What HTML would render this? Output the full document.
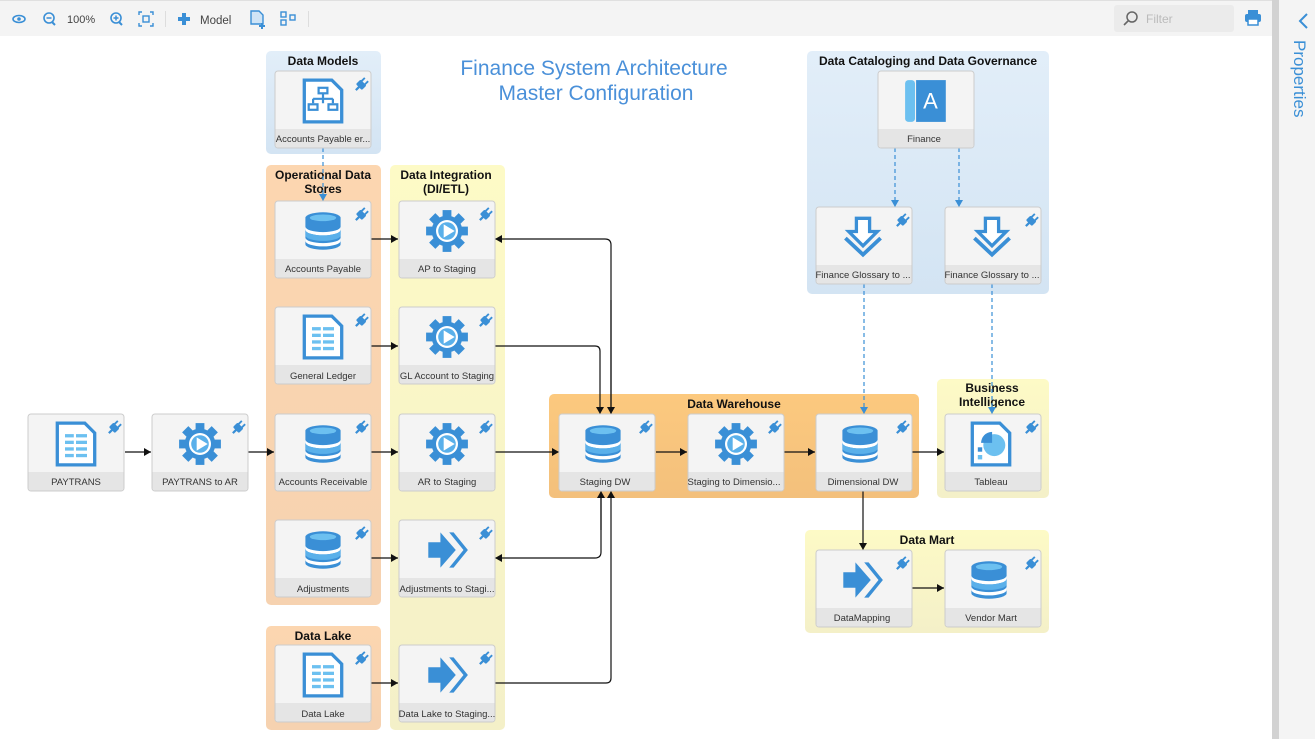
<!DOCTYPE html>
<html><head><meta charset="utf-8"><style>
html,body{margin:0;padding:0;width:1315px;height:739px;overflow:hidden;background:#fff;font-family:"Liberation Sans",sans-serif;}
svg{display:block}
</style></head><body>
<svg width="1315" height="739" viewBox="0 0 1315 739" xmlns="http://www.w3.org/2000/svg" font-family="Liberation Sans, sans-serif">
<defs>
<linearGradient id="gb" x1="0" y1="0" x2="0" y2="1"><stop offset="0" stop-color="#e2eef9"/><stop offset="1" stop-color="#d3e4f3"/></linearGradient>
<linearGradient id="go" x1="0" y1="0" x2="0" y2="1"><stop offset="0" stop-color="#fcd6b0"/><stop offset="1" stop-color="#f6d2b0"/></linearGradient>
<linearGradient id="gy" x1="0" y1="0" x2="0" y2="1"><stop offset="0" stop-color="#fdfac6"/><stop offset="1" stop-color="#f4f0c8"/></linearGradient>
<linearGradient id="gw" x1="0" y1="0" x2="0" y2="1"><stop offset="0" stop-color="#fcc97e"/><stop offset="1" stop-color="#f3c07c"/></linearGradient>
<marker id="ar" markerWidth="8" markerHeight="8" refX="7" refY="4" orient="auto" markerUnits="userSpaceOnUse"><path d="M0,0 L7,4 L0,8 z" fill="#111"/></marker>
<marker id="ab" markerWidth="8" markerHeight="8" refX="7" refY="4" orient="auto" markerUnits="userSpaceOnUse"><path d="M0,0 L7,4 L0,8 z" fill="#3a8fd6"/></marker>
<symbol id="db" viewBox="-20 -20 40 40" overflow="visible">
<path d="M-16,-12 a16,5 0 0 1 32,0 v24 a16,5 0 0 1 -32,0 z" fill="#3a8fd6"/>
<ellipse cx="0" cy="-12" rx="12" ry="3" fill="#6cc0f0"/>
<path d="M-16,-4 a16,5 0 0 0 32,0 v3 a16,5 0 0 1 -32,0 z" fill="#fff"/>
<path d="M-16,-1 a16,5 0 0 0 32,0 v5 a16,5 0 0 1 -32,0 z" fill="#5ab0ea"/>
<path d="M-16,6 a16,5 0 0 0 32,0 v3 a16,5 0 0 1 -32,0 z" fill="#fff"/>
</symbol>
<symbol id="gear" viewBox="-20 -20 40 40" overflow="visible">
<g fill="#3a8fd6">
<circle r="14"/>
<rect x="-4" y="-19" width="8" height="38"/>
<rect x="-4" y="-19" width="8" height="38" transform="rotate(45)"/>
<rect x="-4" y="-19" width="8" height="38" transform="rotate(90)"/>
<rect x="-4" y="-19" width="8" height="38" transform="rotate(135)"/>
</g>
<circle r="10" fill="#fff"/>
<circle r="8" fill="#5ab0ea"/>
<path d="M-3,-6 L7,0 L-3,6 z" fill="#fff"/>
</symbol>
<symbol id="doc" viewBox="-20 -20 40 40" overflow="visible">
<path d="M-17,-19 H8 L17,-10 V19 H-17 z" fill="#fff" stroke="#3a8fd6" stroke-width="3"/>
<g fill="#6cc0f0"><rect x="-10" y="-9" width="8" height="3"/><rect x="0" y="-9" width="10" height="3"/><rect x="-10" y="-3" width="8" height="3"/><rect x="0" y="-3" width="10" height="3"/><rect x="-10" y="3" width="8" height="3"/><rect x="0" y="3" width="10" height="3"/><rect x="-10" y="9" width="8" height="3"/><rect x="0" y="9" width="10" height="3"/></g>
</symbol>
<symbol id="tree" viewBox="-20 -20 40 40" overflow="visible">
<path d="M-17,-19 H8 L17,-10 V19 H-17 z" fill="#fff" stroke="#3a8fd6" stroke-width="3"/>
<g fill="none" stroke="#3a8fd6" stroke-width="2"><rect x="-4" y="-12" width="8" height="5"/><path d="M0,-7 V-2 M-9,-2 H9 M-9,-2 V2 M9,-2 V2 M0,-2 V2"/><rect x="-13" y="3" width="8" height="5"/><rect x="5" y="3" width="8" height="5"/></g>
</symbol>
<symbol id="chev" viewBox="-20 -20 40 40" overflow="visible">
<path d="M-17,-7 H-6 V-16 L8,0 L-6,16 V7 H-17 z" fill="#3a8fd6"/>
<path d="M2,-16 L6,-16 L19,0 L6,16 L2,16 L15,0 z" fill="#3a8fd6"/>
</symbol>
<symbol id="chart" viewBox="-20 -20 40 40" overflow="visible">
<path d="M-17,-19 H8 L17,-10 V19 H-17 z" fill="#fff" stroke="#3a8fd6" stroke-width="3"/>
<circle cx="3" cy="1" r="10" fill="#6cc0f0"/><path d="M1,-1 V-11 A10,10 0 0 0 -9,-1 z" fill="#3a8fd6"/>
<rect x="-12" y="3" width="4" height="4" fill="#3a8fd6"/><rect x="-12" y="10" width="4" height="4" fill="#6cc0f0"/>
</symbol>
<symbol id="book" viewBox="-20 -20 40 40" overflow="visible">
<rect x="-19" y="-19" width="9" height="38" rx="3" fill="#6cc0f0"/>
<rect x="-9" y="-19" width="27" height="38" fill="#3a8fd6"/>
<text x="4" y="7" font-size="20" fill="#fff" text-anchor="middle" font-family="Liberation Sans, sans-serif">A</text>
</symbol>
<symbol id="down" viewBox="-20 -20 40 40" overflow="visible">
<path d="M-6,-17 H6 V-5 H13 L0,8 L-13,-5 H-6 z" fill="#fff" stroke="#3a8fd6" stroke-width="3"/>
<path d="M-16,1 L0,16 L16,1" fill="none" stroke="#3a8fd6" stroke-width="3.5"/>
</symbol>
<symbol id="plug" viewBox="-8 -8 16 16" overflow="visible">
<g transform="rotate(45)" fill="#3a8fd6"><rect x="-4.5" y="-3" width="9" height="7" rx="1.5"/><rect x="-3.5" y="-7.5" width="2" height="5"/><rect x="1.5" y="-7.5" width="2" height="5"/><rect x="-1.2" y="3.5" width="2.4" height="5"/></g>
</symbol>
</defs>

<!-- toolbar -->
<rect x="0" y="0" width="1272" height="36" fill="#f4f4f4"/>
<rect x="0" y="0" width="1272" height="1" fill="#e0e0e0"/>
<g fill="#3a8fd6" stroke="#3a8fd6">
<ellipse cx="19" cy="19" rx="6" ry="3.5" fill="none" stroke-width="1.6"/><circle cx="19" cy="19" r="1.8" stroke="none"/>
<circle cx="49" cy="18" r="5" fill="none" stroke-width="1.6"/><line x1="52" y1="22" x2="55" y2="25" stroke-width="2"/><line x1="46.5" y1="18" x2="51.5" y2="18" stroke-width="1.5"/>
<circle cx="116" cy="18" r="5" fill="none" stroke-width="1.6"/><line x1="119" y1="22" x2="122" y2="25" stroke-width="2"/><line x1="113.5" y1="18" x2="118.5" y2="18" stroke-width="1.5"/><line x1="116" y1="15.5" x2="116" y2="20.5" stroke-width="1.5"/>
<path d="M139,15 V12 H142 M150,12 H153 V15 M153,23 V26 H150 M142,26 H139 V23" fill="none" stroke-width="1.4"/><rect x="143" y="16" width="6" height="6" fill="none" stroke-width="1.4"/>
</g>
<text x="67" y="23" font-size="11" fill="#444">100%</text>
<rect x="165" y="11" width="1" height="16" fill="#ddd"/>
<path d="M182,13 h4 v4 h4 v4 h-4 v4 h-4 v-4 h-4 v-4 h4z" fill="#3a8fd6"/>
<text x="200" y="24" font-size="11.5" fill="#444">Model</text>
<g fill="none" stroke="#3a8fd6" stroke-width="1.4"><path d="M251,11 h8 l4,4 v9 h-12 z" fill="#cfe4f6"/><path d="M262,23 v6 M259,26 h6" stroke-width="2"/>
<rect x="281" y="12" width="5" height="5"/><rect x="281" y="20" width="5" height="5"/><rect x="290" y="15" width="5" height="5"/></g>
<rect x="308" y="11" width="1" height="16" fill="#ddd"/>
<rect x="1114" y="5" width="120" height="27" rx="3" fill="#ebebeb"/>
<circle cx="1132" cy="17" r="5" fill="none" stroke="#666" stroke-width="1.5"/><line x1="1128" y1="21" x2="1124" y2="25" stroke="#666" stroke-width="1.6"/>
<text x="1146" y="23" font-size="12" fill="#bbb">Filter</text>
<g fill="#3a8fd6"><rect x="1248" y="10" width="10" height="4"/><rect x="1245" y="14" width="16" height="8" rx="2"/><rect x="1248" y="19" width="10" height="6" fill="#fff" stroke="#3a8fd6" stroke-width="1.5"/></g>
<!-- right panel -->
<rect x="1272" y="0" width="7" height="739" fill="#d2d2d2"/>
<rect x="1279" y="0" width="36" height="739" fill="#f4f4f4"/>
<path d="M1307,14 L1300,21 L1307,28" fill="none" stroke="#3a8fd6" stroke-width="2"/>
<text transform="translate(1294,40) rotate(90)" font-size="17" fill="#3a8fd6">Properties</text>

<!-- title -->
<text x="594" y="75" font-size="21" fill="#4a90d9" text-anchor="middle">Finance System Architecture</text>
<text x="596" y="100" font-size="21" fill="#4a90d9" text-anchor="middle">Master Configuration</text>

<!-- groups -->
<rect x="266" y="51" width="115" height="103" rx="5" fill="url(#gb)"/>
<rect x="266" y="165" width="115" height="440" rx="5" fill="url(#go)"/>
<rect x="266" y="626" width="115" height="104" rx="5" fill="url(#go)"/>
<rect x="390" y="165" width="115" height="565" rx="5" fill="url(#gy)"/>
<rect x="549" y="394" width="370" height="104" rx="5" fill="url(#gw)"/>
<rect x="937" y="379" width="112" height="119" rx="5" fill="url(#gy)"/>
<rect x="805" y="530" width="244" height="103" rx="5" fill="url(#gy)"/>
<rect x="807" y="51" width="242" height="243" rx="5" fill="url(#gb)"/>
<g font-size="12" font-weight="bold" fill="#111" text-anchor="middle">
<text x="323" y="65">Data Models</text>
<text x="323" y="179">Operational Data</text><text x="323" y="193">Stores</text>
<text x="323" y="640">Data Lake</text>
<text x="446" y="179">Data Integration</text><text x="446" y="193">(DI/ETL)</text>
<text x="734" y="408">Data Warehouse</text>
<text x="992" y="392">Business</text><text x="992" y="406">Intelligence</text>
<text x="927" y="544">Data Mart</text>
<text x="928" y="65">Data Cataloging and Data Governance</text>
</g>

<!-- connectors -->
<g fill="none" stroke="#111" stroke-width="1.2">
<line x1="125" y1="452" x2="151" y2="452" marker-end="url(#ar)"/>
<line x1="248" y1="452" x2="274" y2="452" marker-end="url(#ar)"/>
<line x1="371" y1="239" x2="398" y2="239" marker-end="url(#ar)"/>
<line x1="371" y1="346" x2="398" y2="346" marker-end="url(#ar)"/>
<line x1="371" y1="452" x2="398" y2="452" marker-end="url(#ar)"/>
<line x1="371" y1="558" x2="398" y2="558" marker-end="url(#ar)"/>
<line x1="371" y1="683" x2="398" y2="683" marker-end="url(#ar)"/>
<path d="M611,414 V245 q0,-6 -6,-6 H495" marker-end="url(#ar)"/>
<line x1="611" y1="300" x2="611" y2="414" marker-end="url(#ar)"/>
<path d="M495,346 H595 q5,0 5,5 V414" marker-end="url(#ar)"/>
<line x1="495" y1="452" x2="559" y2="452" marker-end="url(#ar)"/>
<path d="M601,498 V552 q0,6 -6,6 H495" marker-end="url(#ar)"/>
<line x1="601" y1="530" x2="601" y2="491" marker-end="url(#ar)"/>
<path d="M495,683 H606 q5,0 5,-5 V491" marker-end="url(#ar)"/>
<line x1="656" y1="452" x2="687" y2="452" marker-end="url(#ar)"/>
<line x1="784" y1="452" x2="815" y2="452" marker-end="url(#ar)"/>
<line x1="912" y1="452" x2="944" y2="452" marker-end="url(#ar)"/>
<line x1="863" y1="491" x2="863" y2="550" marker-end="url(#ar)"/>
<line x1="912" y1="588" x2="944" y2="588" marker-end="url(#ar)"/>
</g>
<g fill="none" stroke="#3a8fd6" stroke-width="1.2" stroke-dasharray="4,3">
<line x1="323" y1="148" x2="323" y2="201" marker-end="url(#ab)"/>
<line x1="895" y1="148" x2="895" y2="207" marker-end="url(#ab)"/>
<line x1="959" y1="148" x2="959" y2="207" marker-end="url(#ab)"/>
<line x1="864" y1="284" x2="864" y2="414" marker-end="url(#ab)"/>
<line x1="992" y1="284" x2="992" y2="414" marker-end="url(#ab)"/>
</g>

<!-- nodes -->
<g id="nodes" font-size="9.5" fill="#333" text-anchor="middle">
<g transform="translate(275,71)"><rect x="0" y="0" width="96" height="77" rx="3" fill="#f4f4f4" stroke="#ccc"/><path d="M0.5,58 H95.5 V74 q0,2.5 -2.5,2.5 H3 q-2.5,0 -2.5,-2.5z" fill="#e5e5e5"/><use href="#tree" x="26" y="8" width="44" height="44"/><use href="#plug" x="79" y="6" width="15" height="15"/><text x="48" y="71">Accounts Payable er...</text></g>
<g transform="translate(275,201)"><rect x="0" y="0" width="96" height="77" rx="3" fill="#f4f4f4" stroke="#ccc"/><path d="M0.5,58 H95.5 V74 q0,2.5 -2.5,2.5 H3 q-2.5,0 -2.5,-2.5z" fill="#e5e5e5"/><use href="#db" x="26" y="8" width="44" height="44"/><use href="#plug" x="79" y="6" width="15" height="15"/><text x="48" y="71">Accounts Payable</text></g>
<g transform="translate(275,307)"><rect x="0" y="0" width="96" height="77" rx="3" fill="#f4f4f4" stroke="#ccc"/><path d="M0.5,58 H95.5 V74 q0,2.5 -2.5,2.5 H3 q-2.5,0 -2.5,-2.5z" fill="#e5e5e5"/><use href="#doc" x="26" y="8" width="44" height="44"/><use href="#plug" x="79" y="6" width="15" height="15"/><text x="48" y="72">General Ledger</text></g>
<g transform="translate(275,414)"><rect x="0" y="0" width="96" height="77" rx="3" fill="#f4f4f4" stroke="#ccc"/><path d="M0.5,58 H95.5 V74 q0,2.5 -2.5,2.5 H3 q-2.5,0 -2.5,-2.5z" fill="#e5e5e5"/><use href="#db" x="26" y="8" width="44" height="44"/><use href="#plug" x="79" y="6" width="15" height="15"/><text x="48" y="71">Accounts Receivable</text></g>
<g transform="translate(275,520)"><rect x="0" y="0" width="96" height="77" rx="3" fill="#f4f4f4" stroke="#ccc"/><path d="M0.5,58 H95.5 V74 q0,2.5 -2.5,2.5 H3 q-2.5,0 -2.5,-2.5z" fill="#e5e5e5"/><use href="#db" x="26" y="8" width="44" height="44"/><use href="#plug" x="79" y="6" width="15" height="15"/><text x="48" y="72">Adjustments</text></g>
<g transform="translate(275,645)"><rect x="0" y="0" width="96" height="77" rx="3" fill="#f4f4f4" stroke="#ccc"/><path d="M0.5,58 H95.5 V74 q0,2.5 -2.5,2.5 H3 q-2.5,0 -2.5,-2.5z" fill="#e5e5e5"/><use href="#doc" x="26" y="8" width="44" height="44"/><use href="#plug" x="79" y="6" width="15" height="15"/><text x="48" y="72">Data Lake</text></g>

<g transform="translate(399,201)"><rect x="0" y="0" width="96" height="77" rx="3" fill="#f4f4f4" stroke="#ccc"/><path d="M0.5,58 H95.5 V74 q0,2.5 -2.5,2.5 H3 q-2.5,0 -2.5,-2.5z" fill="#e5e5e5"/><use href="#gear" x="26" y="8" width="44" height="44"/><use href="#plug" x="79" y="6" width="15" height="15"/><text x="48" y="71">AP to Staging</text></g>
<g transform="translate(399,307)"><rect x="0" y="0" width="96" height="77" rx="3" fill="#f4f4f4" stroke="#ccc"/><path d="M0.5,58 H95.5 V74 q0,2.5 -2.5,2.5 H3 q-2.5,0 -2.5,-2.5z" fill="#e5e5e5"/><use href="#gear" x="26" y="8" width="44" height="44"/><use href="#plug" x="79" y="6" width="15" height="15"/><text x="48" y="72">GL Account to Staging</text></g>
<g transform="translate(399,414)"><rect x="0" y="0" width="96" height="77" rx="3" fill="#f4f4f4" stroke="#ccc"/><path d="M0.5,58 H95.5 V74 q0,2.5 -2.5,2.5 H3 q-2.5,0 -2.5,-2.5z" fill="#e5e5e5"/><use href="#gear" x="26" y="8" width="44" height="44"/><use href="#plug" x="79" y="6" width="15" height="15"/><text x="48" y="71">AR to Staging</text></g>
<g transform="translate(399,520)"><rect x="0" y="0" width="96" height="77" rx="3" fill="#f4f4f4" stroke="#ccc"/><path d="M0.5,58 H95.5 V74 q0,2.5 -2.5,2.5 H3 q-2.5,0 -2.5,-2.5z" fill="#e5e5e5"/><use href="#chev" x="26" y="8" width="44" height="44"/><use href="#plug" x="79" y="6" width="15" height="15"/><text x="48" y="72">Adjustments to Stagi...</text></g>
<g transform="translate(399,645)"><rect x="0" y="0" width="96" height="77" rx="3" fill="#f4f4f4" stroke="#ccc"/><path d="M0.5,58 H95.5 V74 q0,2.5 -2.5,2.5 H3 q-2.5,0 -2.5,-2.5z" fill="#e5e5e5"/><use href="#chev" x="26" y="8" width="44" height="44"/><use href="#plug" x="79" y="6" width="15" height="15"/><text x="48" y="72">Data Lake to Staging...</text></g>

<g transform="translate(28,414)"><rect x="0" y="0" width="96" height="77" rx="3" fill="#f4f4f4" stroke="#ccc"/><path d="M0.5,58 H95.5 V74 q0,2.5 -2.5,2.5 H3 q-2.5,0 -2.5,-2.5z" fill="#e5e5e5"/><use href="#doc" x="26" y="8" width="44" height="44"/><use href="#plug" x="79" y="6" width="15" height="15"/><text x="48" y="71">PAYTRANS</text></g>
<g transform="translate(152,414)"><rect x="0" y="0" width="96" height="77" rx="3" fill="#f4f4f4" stroke="#ccc"/><path d="M0.5,58 H95.5 V74 q0,2.5 -2.5,2.5 H3 q-2.5,0 -2.5,-2.5z" fill="#e5e5e5"/><use href="#gear" x="26" y="8" width="44" height="44"/><use href="#plug" x="79" y="6" width="15" height="15"/><text x="48" y="71">PAYTRANS to AR</text></g>

<g transform="translate(559,414)"><rect x="0" y="0" width="96" height="77" rx="3" fill="#f4f4f4" stroke="#ccc"/><path d="M0.5,58 H95.5 V74 q0,2.5 -2.5,2.5 H3 q-2.5,0 -2.5,-2.5z" fill="#e5e5e5"/><use href="#db" x="22" y="8" width="44" height="44"/><use href="#plug" x="79" y="6" width="15" height="15"/><text x="46" y="71">Staging DW</text></g>
<g transform="translate(688,414)"><rect x="0" y="0" width="96" height="77" rx="3" fill="#f4f4f4" stroke="#ccc"/><path d="M0.5,58 H95.5 V74 q0,2.5 -2.5,2.5 H3 q-2.5,0 -2.5,-2.5z" fill="#e5e5e5"/><use href="#gear" x="26" y="8" width="44" height="44"/><use href="#plug" x="79" y="6" width="15" height="15"/><text x="46" y="71">Staging to Dimensio...</text></g>
<g transform="translate(816,414)"><rect x="0" y="0" width="96" height="77" rx="3" fill="#f4f4f4" stroke="#ccc"/><path d="M0.5,58 H95.5 V74 q0,2.5 -2.5,2.5 H3 q-2.5,0 -2.5,-2.5z" fill="#e5e5e5"/><use href="#db" x="22" y="8" width="44" height="44"/><use href="#plug" x="79" y="6" width="15" height="15"/><text x="47" y="71">Dimensional DW</text></g>
<g transform="translate(945,414)"><rect x="0" y="0" width="96" height="77" rx="3" fill="#f4f4f4" stroke="#ccc"/><path d="M0.5,58 H95.5 V74 q0,2.5 -2.5,2.5 H3 q-2.5,0 -2.5,-2.5z" fill="#e5e5e5"/><use href="#chart" x="24" y="8" width="44" height="44"/><use href="#plug" x="79" y="6" width="15" height="15"/><text x="46" y="71">Tableau</text></g>
<g transform="translate(816,550)"><rect x="0" y="0" width="96" height="77" rx="3" fill="#f4f4f4" stroke="#ccc"/><path d="M0.5,58 H95.5 V74 q0,2.5 -2.5,2.5 H3 q-2.5,0 -2.5,-2.5z" fill="#e5e5e5"/><use href="#chev" x="24" y="8" width="44" height="44"/><use href="#plug" x="79" y="6" width="15" height="15"/><text x="46" y="71">DataMapping</text></g>
<g transform="translate(945,550)"><rect x="0" y="0" width="96" height="77" rx="3" fill="#f4f4f4" stroke="#ccc"/><path d="M0.5,58 H95.5 V74 q0,2.5 -2.5,2.5 H3 q-2.5,0 -2.5,-2.5z" fill="#e5e5e5"/><use href="#db" x="22" y="8" width="44" height="44"/><use href="#plug" x="79" y="6" width="15" height="15"/><text x="46" y="71">Vendor Mart</text></g>
<g transform="translate(878,71)"><rect x="0" y="0" width="96" height="77" rx="3" fill="#f4f4f4" stroke="#ccc"/><path d="M0.5,58 H95.5 V74 q0,2.5 -2.5,2.5 H3 q-2.5,0 -2.5,-2.5z" fill="#e5e5e5"/><use href="#book" x="26" y="8" width="44" height="44"/><text x="46" y="71">Finance</text></g>
<g transform="translate(816,207)"><rect x="0" y="0" width="96" height="77" rx="3" fill="#f4f4f4" stroke="#ccc"/><path d="M0.5,58 H95.5 V74 q0,2.5 -2.5,2.5 H3 q-2.5,0 -2.5,-2.5z" fill="#e5e5e5"/><use href="#down" x="25" y="8" width="44" height="44"/><use href="#plug" x="79" y="6" width="15" height="15"/><text x="47" y="71">Finance Glossary to ...</text></g>
<g transform="translate(945,207)"><rect x="0" y="0" width="96" height="77" rx="3" fill="#f4f4f4" stroke="#ccc"/><path d="M0.5,58 H95.5 V74 q0,2.5 -2.5,2.5 H3 q-2.5,0 -2.5,-2.5z" fill="#e5e5e5"/><use href="#down" x="25" y="8" width="44" height="44"/><use href="#plug" x="79" y="6" width="15" height="15"/><text x="47" y="71">Finance Glossary to ...</text></g>
</g>
</svg>
</body></html>
